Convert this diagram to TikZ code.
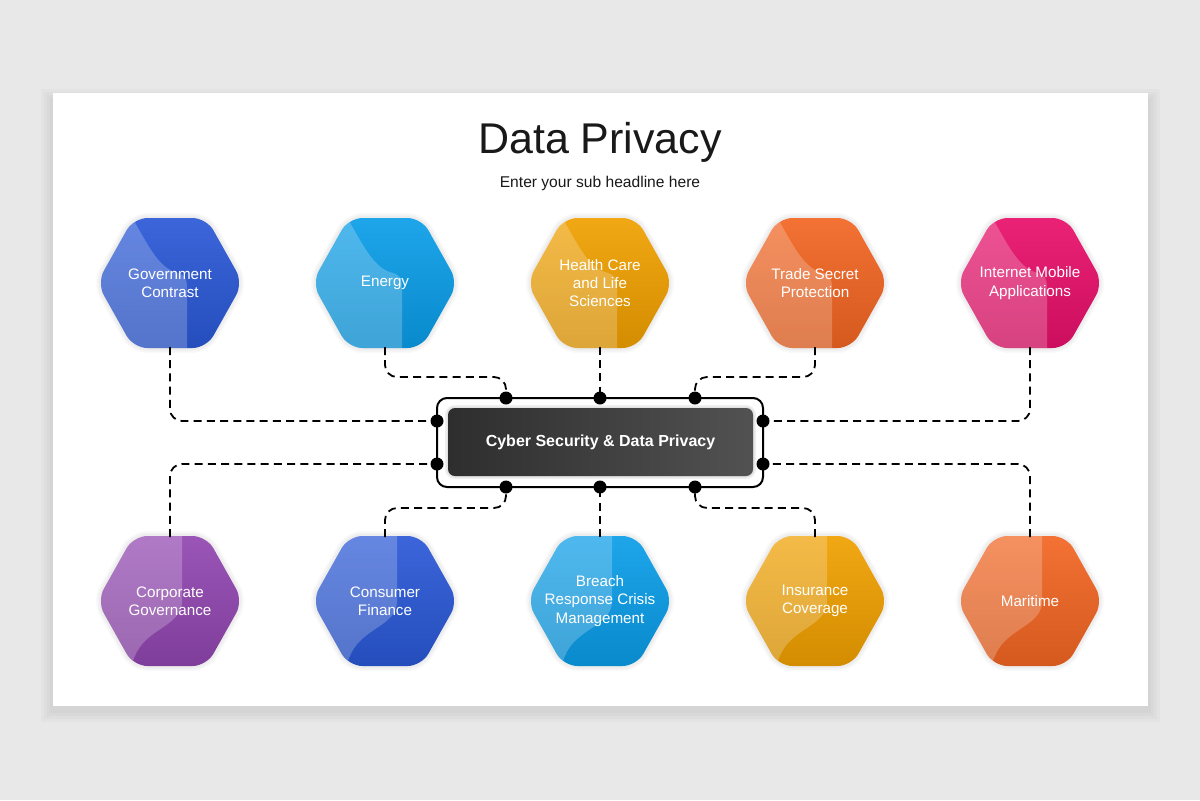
\documentclass[tikz,border=0pt]{standalone}
\usepackage{fontspec}
\setmainfont{Liberation Sans}
\definecolor{bgc}{HTML}{E9E8E9}
\definecolor{cBlue}{HTML}{2A58D6}
\definecolor{cSky}{HTML}{0A9DE8}
\definecolor{cAmber}{HTML}{F0A000}
\definecolor{cOrange}{HTML}{F26522}
\definecolor{cPink}{HTML}{E80F6A}
\definecolor{cPurple}{HTML}{9146B0}
\newcommand\hexpath{(-73,0) -- (-36.5,-65) -- (36.5,-65) -- (73,0) -- (36.5,65) -- (-36.5,65) -- cycle}
% #1 name, #2 x, #3 y, #4 colour, #5 text, #6 row (1 top, 2 bottom)
\newcommand\hexa[6]{%
 \begin{scope}[shift={(#2,#3)}]
  \foreach \w in {5,3.5,2} \draw[black, opacity=0.022, line width=\w pt, rounded corners=7pt] \hexpath;
  \shade[rounded corners=7pt, top color=#4!92!white, bottom color=#4!88!black] \hexpath;
  \begin{scope}
   \clip[rounded corners=7pt] \hexpath;
   \ifnum#6=1
    \fill[white, opacity=0.22] (-100,-80) -- (-37,-80) -- (-37,-64) .. controls (-20,-34) and (-10,-14) .. (8,-10) .. controls (15,-8) and (17,-4) .. (17,5) -- (17,80) -- (-100,80) -- cycle;
   \else
    \fill[white, opacity=0.22] (-100,-80) -- (12,-80) -- (12,0) .. controls (12,20) and (-10,25) .. (-25,40) .. controls (-33,48) and (-38,58) .. (-42,80) -- (-100,80) -- cycle;
   \fi
  \end{scope}
  \node[lbl] (#1) at (0,0) {#5};
  \coordinate (#1-t) at (0,-64);
  \coordinate (#1-b) at (0,64);
 \end{scope}}
\begin{document}
\begin{tikzpicture}[x=0.5pt,y=-0.5pt,
  conn/.style={draw=black, line width=0.9pt, dash pattern=on 4pt off 2.6pt, rounded corners=6pt},
  dot/.style={circle, fill=black, inner sep=0pt, minimum size=6.5pt},
  lbl/.style={text=white, align=center, font=\fontsize{7.6}{9.1}\selectfont}]
\fill[bgc] (0,0) rectangle (1200,800);
\useasboundingbox (0,0) rectangle (1200,800);
\foreach \s in {12,9,6,3} \fill[black, opacity=0.018] (53-\s,93-\s+8) rectangle (1148+\s,706+\s+4);
\fill[white] (53,93) rectangle (1148,706);

\node[font=\fontsize{21.5}{24}\selectfont, text=black!90] (title) at (600,142) {Data Privacy};
\node[font=\fontsize{7.8}{9}\selectfont, text=black!90] (sub) at (600,183) {Enter your sub headline here};

\hexa{gov}{170}{283}{cBlue}{Government\\Contrast}{1}
\hexa{en}{385}{283}{cSky}{Energy}{1}
\hexa{hc}{600}{283}{cAmber}{Health Care\\and Life\\Sciences}{1}
\hexa{ts}{815}{283}{cOrange}{Trade Secret\\Protection}{1}
\hexa{im}{1030}{283}{cPink}{Internet Mobile\\Applications}{1}
\hexa{cg}{170}{601}{cPurple}{Corporate\\Governance}{2}
\hexa{cf}{385}{601}{cBlue}{Consumer\\Finance}{2}
\hexa{br}{600}{601}{cSky}{Breach\\Response Crisis\\Management}{2}
\hexa{ic}{815}{601}{cAmber}{Insurance\\Coverage}{2}
\hexa{ma}{1030}{601}{cOrange}{Maritime}{2}

% centre
\node[draw=black, line width=1pt, rounded corners=5pt, minimum width=163pt, minimum height=44.5pt, inner sep=0pt, fill=white] (outer) at (600,442.5) {};
\foreach \w in {3,1.5} \draw[black, opacity=0.06, line width=\w pt, rounded corners=3.5pt] (448,408) rectangle (753,476);
\node[rounded corners=3.5pt, minimum width=152.5pt, minimum height=34pt, inner sep=0pt, left color=black!82, right color=black!68, text=white, font=\bfseries\fontsize{8}{9}\selectfont] (core) at (600.5,442) {Cyber Security \& Data Privacy};

\coordinate (T1) at (506,398); \coordinate (T2) at (600,398); \coordinate (T3) at (695,398);
\coordinate (B1) at (506,487); \coordinate (B2) at (600,487); \coordinate (B3) at (695,487);
\coordinate (L1) at (437,421); \coordinate (L2) at (437,464);
\coordinate (R1) at (763,421); \coordinate (R2) at (763,464);

\draw[conn] (gov-b) |- (L1);
\draw[conn] (en-b) -- ++(0,30) -| (T1);
\draw[conn] (hc-b) -- (T2);
\draw[conn] (ts-b) -- ++(0,30) -| (T3);
\draw[conn] (im-b) |- (R1);
\draw[conn] (cg-t) |- (L2);
\draw[conn] (cf-t) -- ++(0,-29) -| (B1);
\draw[conn] (br-t) -- (B2);
\draw[conn] (ic-t) -- ++(0,-29) -| (B3);
\draw[conn] (ma-t) |- (R2);

\foreach \p in {T1,T2,T3,B1,B2,B3,L1,L2,R1,R2} \node[dot] (d\p) at (\p) {};
\end{tikzpicture}
\end{document}
